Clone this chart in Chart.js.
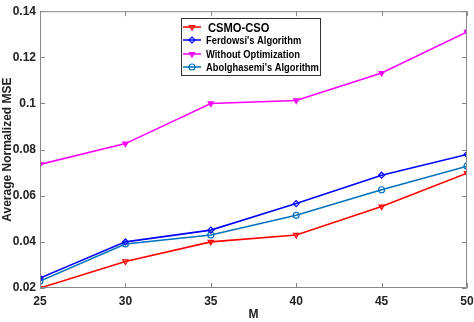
<!DOCTYPE html>
<html><head><meta charset="utf-8">
<script src="https://cdn.jsdelivr.net/npm/chart.js@4/dist/chart.umd.min.js"></script>
<style>
html,body{margin:0;padding:0;background:#fff;overflow:hidden}
#wrap{width:474px;height:322px;overflow:hidden;position:relative}
#c{position:absolute;left:0;top:0}
</style></head><body>
<div id="wrap"><canvas id="c" width="494" height="322"></canvas></div>
<script>
const categories = [25, 30, 35, 40, 45, 50];
const csmoCso = [0.0200, 0.0315, 0.0400, 0.0430, 0.0553, 0.0698];
const ferdowsi = [0.0243, 0.0400, 0.0451, 0.0566, 0.0689, 0.0779];
const withoutOpt = [0.0736, 0.0826, 0.1000, 0.1013, 0.1132, 0.1310];
const abolghasemi = [0.0230, 0.0391, 0.0430, 0.0515, 0.0626, 0.0728];
const yTicks = [0.02, 0.04, 0.06, 0.08, 0.1, 0.12, 0.14];
const seriesNames = ["CSMO-CSO", "Ferdowsi's Algorithm", "Without Optimization", "Abolghasemi's Algorithm"];

const FONT = 'Arial, "Liberation Sans", sans-serif';

const boxPlugin = {
  id: 'box',
  afterDatasetsDraw(chart) {
    const {ctx, chartArea: a, scales: {x, y}} = chart;
    ctx.save();
    ctx.strokeStyle = '#888';
    ctx.lineWidth = 1;
    ctx.beginPath();
    ctx.rect(a.left + 0.5, a.top + 0.5, a.right - a.left - 1, a.bottom - a.top - 1);
    ctx.stroke();
    ctx.beginPath();
    categories.forEach(v => {
      const px = Math.round(x.getPixelForValue(v)) + 0.5;
      ctx.moveTo(px, a.bottom); ctx.lineTo(px, a.bottom - 5);
      ctx.moveTo(px, a.top); ctx.lineTo(px, a.top + 5);
    });
    yTicks.forEach(v => {
      const py = Math.round(y.getPixelForValue(v)) + 0.5;
      ctx.moveTo(a.left, py); ctx.lineTo(a.left + 5, py);
      ctx.moveTo(a.right, py); ctx.lineTo(a.right - 5, py);
    });
    ctx.stroke();
    ctx.restore();
  },
  afterDraw(chart) {
    const ctx = chart.ctx;
    const bx = 181, by = 18, bw = 139, bh = 57;
    ctx.save();
    ctx.fillStyle = '#fff';
    ctx.fillRect(bx, by, bw, bh);
    ctx.strokeStyle = '#333';
    ctx.lineWidth = 1;
    ctx.strokeRect(bx + 0.5, by + 0.5, bw, bh);
    const rows = [27, 40, 54, 67];
    chart.data.datasets.forEach((ds, i) => {
      const yy = rows[i];
      ctx.strokeStyle = ds.borderColor;
      ctx.lineWidth = 1.5;
      ctx.beginPath();
      ctx.moveTo(bx + 2, yy); ctx.lineTo(bx + 20, yy);
      ctx.stroke();
      ctx.fillStyle = ds.pointBackgroundColor;
      ctx.strokeStyle = ds.borderColor;
      ctx.lineWidth = 1.2;
      Chart.helpers.drawPoint(ctx, {
        pointStyle: ds.pointStyle, radius: 3, rotation: ds.pointRotation || 0,
        borderWidth: 1.2
      }, bx + 11, yy);
      ctx.save();
      ctx.fillStyle = '#000';
      const first = i === 0;
      ctx.font = 'bold ' + (first ? 13 : 11) + 'px ' + FONT;
      ctx.textBaseline = 'middle';
      ctx.translate(bx + (first ? 27 : 25), yy + 1);
      ctx.scale(first ? 0.86 : 0.85, 1);
      ctx.fillText(ds.label, 0, 0);
      ctx.restore();
    });
    ctx.restore();
  }
};

function ds(label, data, color, style, rot, fill) {
  return {
    label, data, borderColor: color, backgroundColor: fill ? color : 'rgba(255,255,255,0)',
    pointBackgroundColor: fill ? color : 'rgba(255,255,255,0)', pointBorderColor: color,
    pointStyle: style, pointRotation: rot, pointRadius: 3, pointBorderWidth: 1.2,
    borderWidth: 1.6, tension: 0
  };
}

new Chart(document.getElementById('c'), {
  type: 'line',
  data: {
    labels: categories,
    datasets: [
      ds(seriesNames[0], csmoCso, '#ff0000', 'triangle', 180, false),
      ds(seriesNames[1], ferdowsi, '#0000ff', 'rectRot', 0, false),
      ds(seriesNames[2], withoutOpt, '#ff00ff', 'triangle', 180, true),
      ds(seriesNames[3], abolghasemi, '#0072bd', 'circle', 0, false)
    ].map(d => { d.data = d.data.map((v, i) => ({x: categories[i], y: v})); return d; })
  },
  options: {
    responsive: false,
    animation: false,
    devicePixelRatio: 1,
    layout: {padding: {top: 5, right: 27, left: 0, bottom: 0}},
    plugins: {legend: {display: false}, tooltip: {enabled: false}},
    scales: {
      x: {
        type: 'linear', min: 25, max: 50,
        afterBuildTicks: s => { s.ticks = categories.map(v => ({value: v})); },
        afterFit: s => { s.height = 34; },
        grid: {display: false, drawTicks: false},
        border: {display: false},
        ticks: {color: '#222', font: {family: FONT, size: 12, weight: 'bold'}, padding: 6, maxRotation: 0},
        title: {display: true, text: 'M', color: '#222', font: {family: FONT, size: 12, weight: 'bold'}, padding: {top: 0, bottom: 0}}
      },
      y: {
        type: 'linear', min: 0.02, max: 0.14,
        afterBuildTicks: s => { s.ticks = yTicks.map(v => ({value: v})); },
        afterFit: s => { s.width = 40; },
        grid: {display: false, drawTicks: false},
        border: {display: false},
        ticks: {color: '#222', font: {family: FONT, size: 12, weight: 'bold'}, padding: 4,
          callback: v => String(Math.round(v * 100) / 100)},
        title: {display: true, text: 'Average Normalized MSE', color: '#222', font: {family: FONT, size: 12, weight: 'bold'}, padding: {top: 0, bottom: 0}}
      }
    }
  },
  plugins: [boxPlugin]
});
</script>
</body></html>
